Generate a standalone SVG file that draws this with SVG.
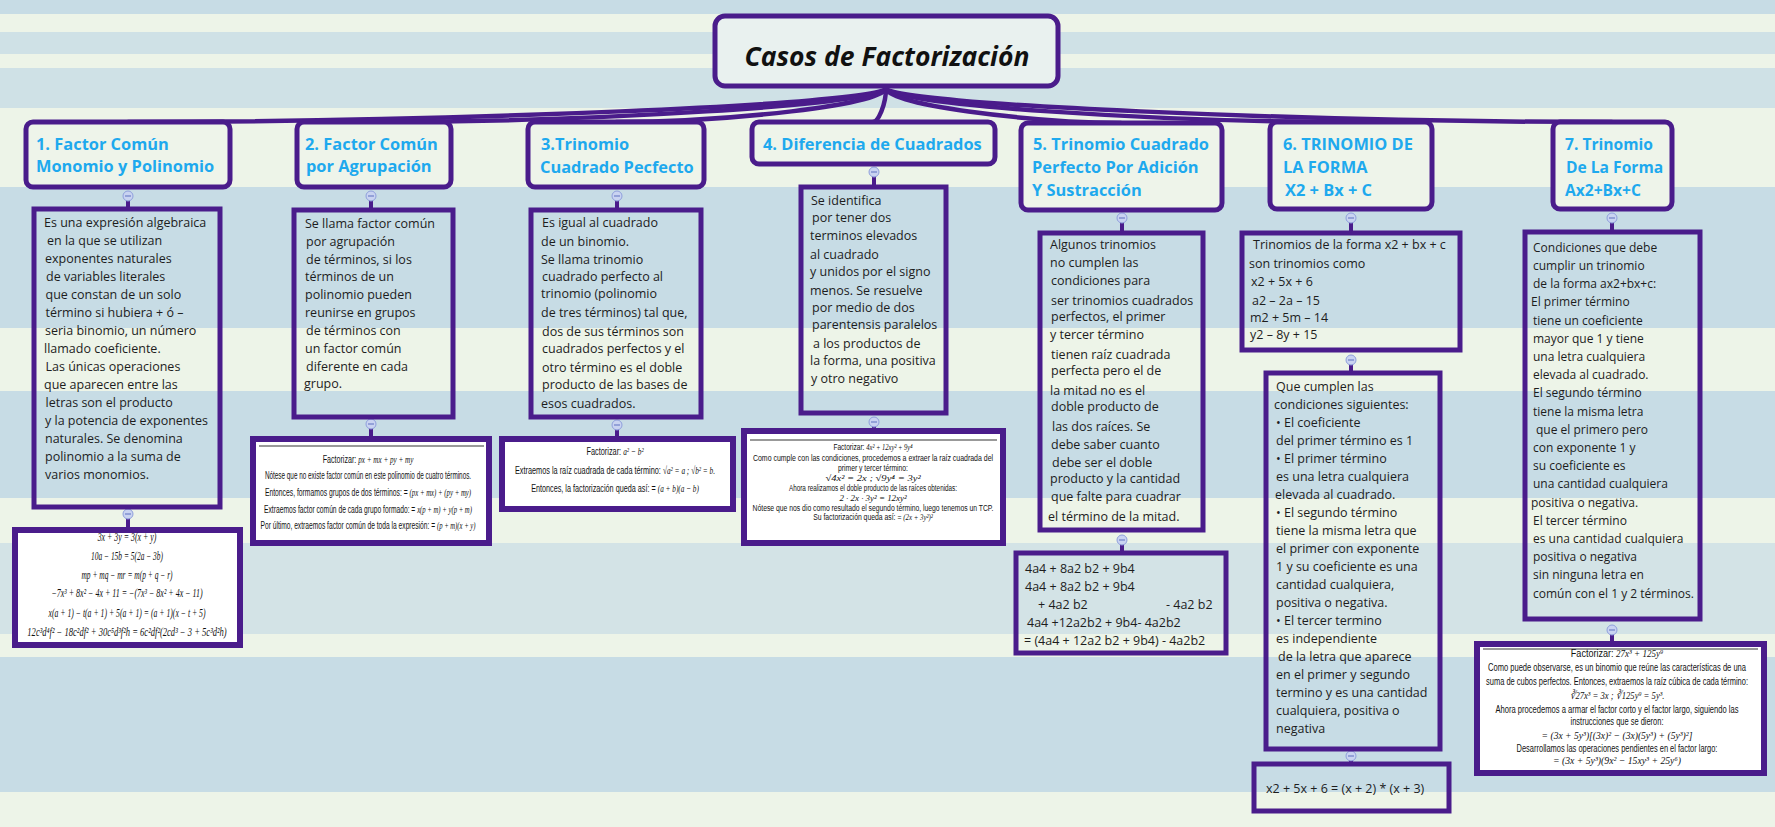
<svg xmlns="http://www.w3.org/2000/svg" width="1775" height="827" viewBox="0 0 1775 827">
<defs>
<style>
.hb{fill:#eef4ea;stroke:#4a1c8b;stroke-width:5}
.bb{fill:none;stroke:#4a1c8b;stroke-width:5}
.ib{fill:#fff;stroke:#4a1c8b;stroke-width:6}
.ht{font-family:"Open Sans","Noto Sans",sans-serif;font-weight:700;font-size:16.4px;fill:#1ea9ee}
.bt{font-family:"Open Sans","Noto Sans",sans-serif;font-size:12.5px;fill:#1d1d1d}
.ft{font-family:"Liberation Sans",Arial,sans-serif;fill:#111;text-anchor:middle}
.mi{font-family:"Liberation Serif","Times New Roman",serif;font-style:italic}
.cn{fill:none;stroke:#4a1c8b;stroke-width:4.5;stroke-linecap:round}
.st{stroke:#4a1c8b;stroke-width:4}
.dot{fill:#c9d3f1;stroke:#8f9fdc;stroke-width:1}
.dm{stroke:#7080c8;stroke-width:1.2}
.gl{stroke:#777;stroke-width:1.5}
.band{fill:#c7dce5}
</style>
</defs>
<rect x="0" y="0" width="1775" height="827" fill="#edf4e8"/>
<rect class="band" x="0" y="0" width="1775" height="14"/>
<rect class="band" x="0" y="32" width="1775" height="22" opacity="0.8"/>
<rect class="band" x="0" y="68" width="1775" height="40" opacity="0.8"/>
<rect class="band" x="0" y="187" width="1775" height="141"/>
<rect class="band" x="0" y="391" width="1775" height="107"/>
<rect class="band" x="0" y="543" width="1775" height="91" opacity="0.7"/>
<rect class="band" x="0" y="657" width="1775" height="135"/>

<g id="connectors">
<path class="cn" d="M886 88 C886 105 431 122 128 122"/>
<path class="cn" d="M886 88 C886 105 579 122 374 122"/>
<path class="cn" d="M886 88 C886 105 724 122 616 122"/>
<path class="cn" d="M886 88 C886 105 878 122 873 122"/>
<path class="cn" d="M886 88 C886 105 1028 122 1121 123"/>
<path class="cn" d="M886 88 C886 105 1165 122 1351 122"/>
<path class="cn" d="M886 88 C886 105 1322 122 1612 122"/>
<line class="st" x1="128" y1="200" x2="128" y2="209"/>
<line class="st" x1="128" y1="518" x2="128" y2="530"/>
<line class="st" x1="371" y1="200" x2="371" y2="210"/>
<line class="st" x1="371" y1="428" x2="371" y2="439"/>
<line class="st" x1="617" y1="200" x2="617" y2="210"/>
<line class="st" x1="617" y1="429" x2="617" y2="439"/>
<line class="st" x1="874" y1="176" x2="874" y2="187"/>
<line class="st" x1="874" y1="426" x2="874" y2="431"/>
<line class="st" x1="1122" y1="222" x2="1122" y2="233"/>
<line class="st" x1="1122" y1="544" x2="1122" y2="553"/>
<line class="st" x1="1351" y1="222" x2="1351" y2="233"/>
<line class="st" x1="1351" y1="364" x2="1351" y2="373"/>
<line class="st" x1="1351" y1="760" x2="1351" y2="764"/>
<line class="st" x1="1612" y1="222" x2="1612" y2="232"/>
<line class="st" x1="1612" y1="634" x2="1612" y2="644"/>
<g>
<circle class="dot" cx="128" cy="196" r="5"/><line class="dm" x1="125" y1="196" x2="131" y2="196"/>
<circle class="dot" cx="128" cy="514" r="5"/><line class="dm" x1="125" y1="514" x2="131" y2="514"/>
<circle class="dot" cx="371" cy="196" r="5"/><line class="dm" x1="368" y1="196" x2="374" y2="196"/>
<circle class="dot" cx="371" cy="424" r="5"/><line class="dm" x1="368" y1="424" x2="374" y2="424"/>
<circle class="dot" cx="617" cy="196" r="5"/><line class="dm" x1="614" y1="196" x2="620" y2="196"/>
<circle class="dot" cx="617" cy="425" r="5"/><line class="dm" x1="614" y1="425" x2="620" y2="425"/>
<circle class="dot" cx="874" cy="172" r="5"/><line class="dm" x1="871" y1="172" x2="877" y2="172"/>
<circle class="dot" cx="874" cy="422" r="5"/><line class="dm" x1="871" y1="422" x2="877" y2="422"/>
<circle class="dot" cx="1122" cy="218" r="5"/><line class="dm" x1="1119" y1="218" x2="1125" y2="218"/>
<circle class="dot" cx="1122" cy="540" r="5"/><line class="dm" x1="1119" y1="540" x2="1125" y2="540"/>
<circle class="dot" cx="1351" cy="218" r="5"/><line class="dm" x1="1348" y1="218" x2="1354" y2="218"/>
<circle class="dot" cx="1351" cy="360" r="5"/><line class="dm" x1="1348" y1="360" x2="1354" y2="360"/>
<circle class="dot" cx="1351" cy="756" r="5"/><line class="dm" x1="1348" y1="756" x2="1354" y2="756"/>
<circle class="dot" cx="1612" cy="218" r="5"/><line class="dm" x1="1609" y1="218" x2="1615" y2="218"/>
<circle class="dot" cx="1612" cy="630" r="5"/><line class="dm" x1="1609" y1="630" x2="1615" y2="630"/>
</g>
</g>

<g id="root">
<rect x="715" y="16" width="343" height="70" rx="10" fill="#e9f1ef" stroke="#4a1c8b" stroke-width="5"/>
<text x="887" y="66" text-anchor="middle" font-family="'Open Sans','Noto Sans',sans-serif" font-weight="700" font-style="italic" font-size="26.5" fill="#111">Casos de Factorización</text>
</g>

<g id="h1">
<rect class="hb" x="26" y="122" width="204" height="65" rx="7"/>
<text class="ht"><tspan x="36" y="150">1. Factor Común</tspan><tspan x="36" y="172">Monomio y Polinomio</tspan></text>
</g>
<g id="b1">
<rect class="bb" x="34" y="209" width="186" height="298"/>
<text class="bt">
<tspan x="44" y="227">Es una expresión algebraica</tspan>
<tspan x="47" y="245">en la que se utilizan</tspan>
<tspan x="45" y="263">exponentes naturales</tspan>
<tspan x="46" y="281">de variables literales</tspan>
<tspan x="45.5" y="299">que constan de un solo</tspan>
<tspan x="45.5" y="317">término si hubiera + ó –</tspan>
<tspan x="45" y="335">seria binomio, un número</tspan>
<tspan x="44" y="353">llamado coeficiente.</tspan>
<tspan x="45.5" y="371">Las únicas operaciones</tspan>
<tspan x="44" y="389">que aparecen entre las</tspan>
<tspan x="45.5" y="407">letras son el producto</tspan>
<tspan x="45" y="425">y la potencia de exponentes</tspan>
<tspan x="45" y="443">naturales. Se denomina</tspan>
<tspan x="45" y="461">polinomio a la suma de</tspan>
<tspan x="45" y="479">varios monomios.</tspan>
</text>
</g>
<g id="i1">
<rect class="ib" x="15" y="530" width="225" height="115"/>
<g class="ft mi" font-size="11.5" transform="translate(127 0) scale(0.66 1)">
<text x="0" y="541" textLength="89" lengthAdjust="spacingAndGlyphs">3x + 3y = 3(x + y)</text>
<text x="0" y="560" textLength="109" lengthAdjust="spacingAndGlyphs">10a − 15b = 5(2a − 3b)</text>
<text x="0" y="579" textLength="138" lengthAdjust="spacingAndGlyphs">mp + mq − mr = m(p + q − r)</text>
<text x="0" y="597" textLength="229" lengthAdjust="spacingAndGlyphs">−7x³ + 8x² − 4x + 11 = −(7x³ − 8x² + 4x − 11)</text>
<text x="0" y="617" textLength="238" lengthAdjust="spacingAndGlyphs">x(a + 1) − t(a + 1) + 5(a + 1) = (a + 1)(x − t + 5)</text>
<text x="0" y="636" textLength="302" lengthAdjust="spacingAndGlyphs">12c³d⁴f² − 18c²df² + 30c⁵d³f²h = 6c²df²(2cd³ − 3 + 5c³d²h)</text>
</g>
</g>

<g id="h2">
<rect class="hb" x="297" y="122" width="154" height="65" rx="7"/>
<text class="ht"><tspan x="305" y="150">2. Factor Común</tspan><tspan x="306" y="172">por Agrupación</tspan></text>
</g>
<g id="b2">
<rect class="bb" x="294" y="210" width="159" height="207"/>
<text class="bt">
<tspan x="305" y="228">Se llama factor común</tspan>
<tspan x="306" y="246">por agrupación</tspan>
<tspan x="306" y="264">de términos, si los</tspan>
<tspan x="305" y="281">términos de un</tspan>
<tspan x="305" y="299">polinomio pueden</tspan>
<tspan x="305" y="317">reunirse en grupos</tspan>
<tspan x="306" y="335">de términos con</tspan>
<tspan x="305" y="353">un factor común</tspan>
<tspan x="306" y="371">diferente en cada</tspan>
<tspan x="304" y="388">grupo.</tspan>
</text>
</g>
<g id="i2">
<rect class="ib" x="253" y="439" width="236" height="104"/>
<line class="gl" x1="259" y1="446" x2="484" y2="446"/>
<g class="ft" font-size="11" transform="translate(368 0) scale(0.55 1)">
<text x="0" y="463" textLength="165" lengthAdjust="spacingAndGlyphs">Factorizar:  <tspan class="mi">px + mx + py + my</tspan></text>
<text x="0" y="479" textLength="375" lengthAdjust="spacingAndGlyphs">Nótese que no existe factor común en este polinomio de cuatro términos.</text>
<text x="0" y="496" textLength="375" lengthAdjust="spacingAndGlyphs">Entonces, formamos grupos de dos términos: = <tspan class="mi">(px + mx) + (py + my)</tspan></text>
<text x="0" y="513" textLength="378" lengthAdjust="spacingAndGlyphs">Extraemos factor común de cada grupo formado: = <tspan class="mi">x(p + m) + y(p + m)</tspan></text>
<text x="0" y="529" textLength="391" lengthAdjust="spacingAndGlyphs">Por último, extraemos factor común de toda la expresión: = <tspan class="mi">(p + m)(x + y)</tspan></text>
</g>
</g>

<g id="h3">
<rect class="hb" x="528" y="122" width="176" height="65" rx="7"/>
<text class="ht"><tspan x="541" y="150">3.Trinomio</tspan><tspan x="540" y="173">Cuadrado Pecfecto</tspan></text>
</g>
<g id="b3">
<rect class="bb" x="531" y="210" width="170" height="207"/>
<text class="bt">
<tspan x="542" y="227">Es igual al cuadrado</tspan>
<tspan x="541" y="246">de un binomio.</tspan>
<tspan x="541" y="264">Se llama trinomio</tspan>
<tspan x="542" y="281">cuadrado perfecto al</tspan>
<tspan x="541" y="298">trinomio (polinomio</tspan>
<tspan x="541" y="317">de tres términos) tal que,</tspan>
<tspan x="542" y="336">dos de sus términos son</tspan>
<tspan x="542" y="353">cuadrados perfectos y el</tspan>
<tspan x="542" y="372">otro término es el doble</tspan>
<tspan x="542" y="389">producto de las bases de</tspan>
<tspan x="541" y="408">esos cuadrados.</tspan>
</text>
</g>
<g id="i3">
<rect class="ib" x="502" y="439" width="231" height="70"/>
<g class="ft" font-size="11" transform="translate(615 0) scale(0.55 1)">
<text x="0" y="455" textLength="104" lengthAdjust="spacingAndGlyphs">Factorizar:  <tspan class="mi">a² − b²</tspan></text>
<text x="0" y="474" textLength="364" lengthAdjust="spacingAndGlyphs">Extraemos la raíz cuadrada de cada término: <tspan class="mi">√a² = a ; √b² = b.</tspan></text>
<text x="0" y="492" textLength="305" lengthAdjust="spacingAndGlyphs">Entonces, la factorización queda así: = <tspan class="mi">(a + b)(a − b)</tspan></text>
</g>
</g>

<g id="h4">
<rect class="hb" x="752" y="122" width="243" height="42" rx="7"/>
<text class="ht"><tspan x="763" y="150">4. Diferencia de Cuadrados</tspan></text>
</g>
<g id="b4">
<rect class="bb" x="801" y="187" width="145" height="226"/>
<text class="bt">
<tspan x="811" y="205">Se identifica</tspan>
<tspan x="812" y="222">por tener dos</tspan>
<tspan x="810" y="240">terminos elevados</tspan>
<tspan x="810" y="259">al cuadrado</tspan>
<tspan x="810" y="276">y unidos por el signo</tspan>
<tspan x="810" y="295">menos. Se resuelve</tspan>
<tspan x="812" y="312">por medio de dos</tspan>
<tspan x="812" y="329">parentensis paralelos</tspan>
<tspan x="813" y="348">a los productos de</tspan>
<tspan x="810" y="365">la forma, una positiva</tspan>
<tspan x="811" y="383">y otro negativo</tspan>
</text>
</g>
<g id="i4">
<rect class="ib" x="744" y="431" width="259" height="112"/>
<line class="gl" x1="750" y1="440" x2="997" y2="440"/>
<g class="ft" font-size="9" transform="translate(873 0) scale(0.7 1)">
<text x="0" y="450" textLength="113" lengthAdjust="spacingAndGlyphs">Factorizar:  <tspan class="mi">4x² + 12xy² + 9y⁴</tspan></text>
<text x="0" y="461" textLength="343" lengthAdjust="spacingAndGlyphs">Como cumple con las condiciones, procedemos a extraer la raíz cuadrada del</text>
<text x="0" y="471" textLength="100" lengthAdjust="spacingAndGlyphs">primer y tercer término:</text>
<text x="0" y="481" textLength="136" lengthAdjust="spacingAndGlyphs" class="mi">√4x² = 2x ; √9y⁴ = 3y²</text>
<text x="0" y="491" textLength="240" lengthAdjust="spacingAndGlyphs">Ahora realizamos el doble producto de las raíces obtenidas:</text>
<text x="0" y="501" textLength="96" lengthAdjust="spacingAndGlyphs" class="mi">2 · 2x · 3y² = 12xy²</text>
<text x="0" y="511" textLength="344" lengthAdjust="spacingAndGlyphs">Nótese que nos dio como resultado el segundo término, luego tenemos un TCP.</text>
<text x="0" y="520" textLength="171" lengthAdjust="spacingAndGlyphs">Su factorización queda así: = <tspan class="mi">(2x + 3y²)²</tspan></text>
</g>
</g>

<g id="h5">
<rect class="hb" x="1021" y="123" width="201" height="87" rx="7"/>
<text class="ht"><tspan x="1033" y="150">5. Trinomio Cuadrado</tspan><tspan x="1032" y="173">Perfecto Por Adición</tspan><tspan x="1032" y="196">Y Sustracción</tspan></text>
</g>
<g id="b5">
<rect class="bb" x="1040" y="233" width="163" height="297"/>
<text class="bt">
<tspan x="1050" y="249">Algunos trinomios</tspan>
<tspan x="1050" y="267">no cumplen las</tspan>
<tspan x="1051" y="285">condiciones para</tspan>
<tspan x="1051" y="305">ser trinomios cuadrados</tspan>
<tspan x="1051" y="321">perfectos, el primer</tspan>
<tspan x="1050" y="339">y tercer término</tspan>
<tspan x="1051" y="359">tienen raíz cuadrada</tspan>
<tspan x="1051" y="375">perfecta pero el de</tspan>
<tspan x="1050" y="395">la mitad no es el</tspan>
<tspan x="1051" y="411">doble producto de</tspan>
<tspan x="1052" y="431">las dos raíces. Se</tspan>
<tspan x="1051" y="449">debe saber cuanto</tspan>
<tspan x="1052" y="467">debe ser el doble</tspan>
<tspan x="1050" y="483">producto y la cantidad</tspan>
<tspan x="1051" y="501">que falte para cuadrar</tspan>
<tspan x="1048" y="521">el término de la mitad.</tspan>
</text>
</g>
<g id="b5b">
<rect class="bb" x="1016" y="553" width="210" height="100"/>
<text class="bt">
<tspan x="1025" y="573">4a4 + 8a2 b2 + 9b4</tspan>
<tspan x="1025" y="591">4a4 + 8a2 b2 + 9b4</tspan>
<tspan x="1038" y="609">+ 4a2 b2</tspan><tspan x="1166" y="609">- 4a2 b2</tspan>
<tspan x="1027" y="627">4a4 +12a2b2 + 9b4- 4a2b2</tspan>
<tspan x="1024" y="645">= (4a4 + 12a2 b2 + 9b4) - 4a2b2</tspan>
</text>
</g>

<g id="h6">
<rect class="hb" x="1270" y="122" width="162" height="87" rx="7"/>
<text class="ht"><tspan x="1283" y="150">6. TRINOMIO DE</tspan><tspan x="1283" y="173">LA FORMA</tspan><tspan x="1285" y="196">X2 + Bx + C</tspan></text>
</g>
<g id="b6">
<rect class="bb" x="1242" y="233" width="218" height="117"/>
<text class="bt">
<tspan x="1253" y="249">Trinomios de la forma x2 + bx + c</tspan>
<tspan x="1249" y="268">son trinomios como</tspan>
<tspan x="1251" y="286">x2 + 5x + 6</tspan>
<tspan x="1252" y="305">a2 – 2a – 15</tspan>
<tspan x="1250" y="322">m2 + 5m – 14</tspan>
<tspan x="1250" y="339">y2 – 8y + 15</tspan>
</text>
</g>
<g id="b6b">
<rect class="bb" x="1266" y="373" width="174" height="376"/>
<text class="bt">
<tspan x="1276" y="391">Que cumplen las</tspan>
<tspan x="1274" y="409">condiciones siguientes:</tspan>
<tspan x="1276" y="427">• El coeficiente</tspan>
<tspan x="1276" y="445">del primer término es 1</tspan>
<tspan x="1276" y="463">• El primer término</tspan>
<tspan x="1276" y="481">es una letra cualquiera</tspan>
<tspan x="1275" y="499">elevada al cuadrado.</tspan>
<tspan x="1276" y="517">• El segundo término</tspan>
<tspan x="1276" y="535">tiene la misma letra que</tspan>
<tspan x="1276" y="553">el primer con exponente</tspan>
<tspan x="1276" y="571">1 y su coeficiente es una</tspan>
<tspan x="1276" y="589">cantidad cualquiera,</tspan>
<tspan x="1276" y="607">positiva o negativa.</tspan>
<tspan x="1276" y="625">• El tercer termino</tspan>
<tspan x="1276" y="643">es independiente</tspan>
<tspan x="1278" y="661">de la letra que aparece</tspan>
<tspan x="1276" y="679">en el primer y segundo</tspan>
<tspan x="1276" y="697">termino y es una cantidad</tspan>
<tspan x="1276" y="715">cualquiera, positiva o</tspan>
<tspan x="1276" y="733">negativa</tspan>
</text>
</g>
<g id="b6c">
<rect class="bb" x="1254" y="764" width="195" height="47"/>
<text class="bt"><tspan x="1266" y="793">x2 + 5x + 6 = (x + 2) * (x + 3)</tspan></text>
</g>

<g id="h7">
<rect class="hb" x="1553" y="122" width="119" height="87" rx="7"/>
<text class="ht" style="font-size:15.6px"><tspan x="1565" y="150">7. Trinomio</tspan><tspan x="1566" y="173">De La Forma</tspan><tspan x="1565" y="196">Ax2+Bx+C</tspan></text>
</g>
<g id="b7">
<rect class="bb" x="1525" y="232" width="175" height="387"/>
<text class="bt" style="font-size:12px">
<tspan x="1533" y="252">Condiciones que debe</tspan>
<tspan x="1533" y="270">cumplir un trinomio</tspan>
<tspan x="1533" y="288">de la forma ax2+bx+c:</tspan>
<tspan x="1531" y="306">El primer término</tspan>
<tspan x="1533" y="325">tiene un coeficiente</tspan>
<tspan x="1533" y="343">mayor que 1 y tiene</tspan>
<tspan x="1533" y="361">una letra cualquiera</tspan>
<tspan x="1533" y="379">elevada al cuadrado.</tspan>
<tspan x="1533" y="397">El segundo término</tspan>
<tspan x="1533" y="416">tiene la misma letra</tspan>
<tspan x="1536" y="434">que el primero pero</tspan>
<tspan x="1533" y="452">con exponente 1 y</tspan>
<tspan x="1533" y="470">su coeficiente es</tspan>
<tspan x="1533" y="488">una cantidad cualquiera</tspan>
<tspan x="1531" y="507">positiva o negativa.</tspan>
<tspan x="1533" y="525">El tercer término</tspan>
<tspan x="1533" y="543">es una cantidad cualquiera</tspan>
<tspan x="1533" y="561">positiva o negativa</tspan>
<tspan x="1533" y="579">sin ninguna letra en</tspan>
<tspan x="1533" y="598">común con el 1 y 2 términos.</tspan>
</text>
</g>
<g id="i7">
<rect class="ib" x="1477" y="644" width="287" height="129"/>
<line class="gl" x1="1483" y1="649" x2="1758" y2="649"/>
<g class="ft" font-size="10.5" transform="translate(1617 0) scale(0.65 1)">
<text x="0" y="657" textLength="142" lengthAdjust="spacingAndGlyphs">Factorizar: <tspan class="mi">27x³ + 125y⁹</tspan></text>
<text x="0" y="671" textLength="397" lengthAdjust="spacingAndGlyphs">Como puede observarse, es un binomio que reúne las características de una</text>
<text x="0" y="685" textLength="403" lengthAdjust="spacingAndGlyphs">suma de cubos perfectos. Entonces, extraemos la raíz cúbica de cada término:</text>
<text x="0" y="699" textLength="146" lengthAdjust="spacingAndGlyphs" class="mi">∛27x³ = 3x ; ∛125y⁹ = 5y³.</text>
<text x="0" y="713" textLength="374" lengthAdjust="spacingAndGlyphs">Ahora procedemos a armar el factor corto y el factor largo, siguiendo las</text>
<text x="0" y="725" textLength="143" lengthAdjust="spacingAndGlyphs">instrucciones que se dieron:</text>
<text x="0" y="739" textLength="232" lengthAdjust="spacingAndGlyphs" class="mi">= (3x + 5y³)[(3x)² − (3x)(5y³) + (5y³)²]</text>
<text x="0" y="752" textLength="309" lengthAdjust="spacingAndGlyphs">Desarrollamos las operaciones pendientes en el factor largo:</text>
<text x="0" y="764" textLength="197" lengthAdjust="spacingAndGlyphs" class="mi">= (3x + 5y³)(9x² − 15xy³ + 25y⁶)</text>
</g>
</g>
</svg>
